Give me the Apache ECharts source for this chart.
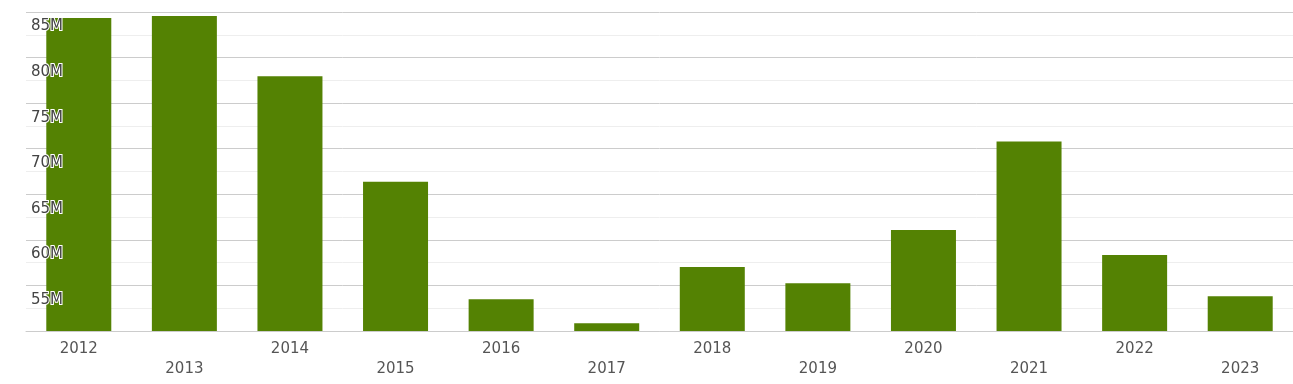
<!DOCTYPE html>
<html>
<head>
<meta charset="utf-8">
<script src="https://cdn.jsdelivr.net/npm/echarts@6/dist/echarts.min.js"></script>
<style>
html,body{margin:0;padding:0;background:#fff;}
#chart{width:1293px;height:384px;}
</style>
</head>
<body>
<div id="chart"></div>
<script>
const years = ['2012','2013','2014','2015','2016','2017','2018','2019','2020','2021','2022','2023'];
const values = [84.33e6, 84.55e6, 77.94e6, 66.38e6, 53.49e6, 50.85e6, 57.02e6, 55.25e6, 61.09e6, 70.78e6, 58.34e6, 53.82e6];
const yMin = 50e6, yMax = 85e6, yStep = 5e6;

const chart = echarts.init(document.getElementById('chart'), null, {renderer: 'canvas'});
chart.setOption({
  animation: false,
  grid: {left: 26, right: 0, top: 12, bottom: 53},
  xAxis: {
    type: 'category',
    data: years,
    axisTick: {show: false},
    axisLine: {show: true, lineStyle: {color: '#ccc', width: 1}},
    axisLabel: {
      interval: 0,
      margin: 8,
      fontFamily: 'DejaVu Sans',
      fontSize: 15,
      lineHeight: 20,
      color: '#555',
      formatter: function (v, i) { return (i % 2 === 1) ? '\n' + v : v; }
    }
  },
  yAxis: [{
    type: 'value',
    min: yMin, max: yMax, interval: yStep,
    axisLine: {show: false},
    axisTick: {show: false},
    axisLabel: {show: false},
    splitLine: {show: true, lineStyle: {color: '#ccc', width: 1}},
    minorTick: {show: false, splitNumber: 2},
    minorSplitLine: {show: true, lineStyle: {color: '#eee', width: 1}},
    z: 0
  }, {
    type: 'value',
    position: 'left',
    min: yMin, max: yMax, interval: yStep,
    axisLine: {show: false},
    axisTick: {show: false},
    splitLine: {show: false},
    axisLabel: {
      inside: true,
      showMinLabel: false,
      margin: 5,
      verticalAlign: 'top',
      padding: [7, 0, 0, 0],
      fontFamily: 'DejaVu Sans',
      fontSize: 15,
      color: '#444',
      textBorderColor: '#fff',
      textBorderWidth: 2,
      formatter: function (v) { return (v / 1e6) + 'M'; }
    },
    z: 10
  }],
  series: [{
    type: 'bar',
    yAxisIndex: 0,
    data: values,
    barWidth: 65,
    itemStyle: {color: '#548203'},
    z: 2
  }]
});
</script>
</body>
</html>
